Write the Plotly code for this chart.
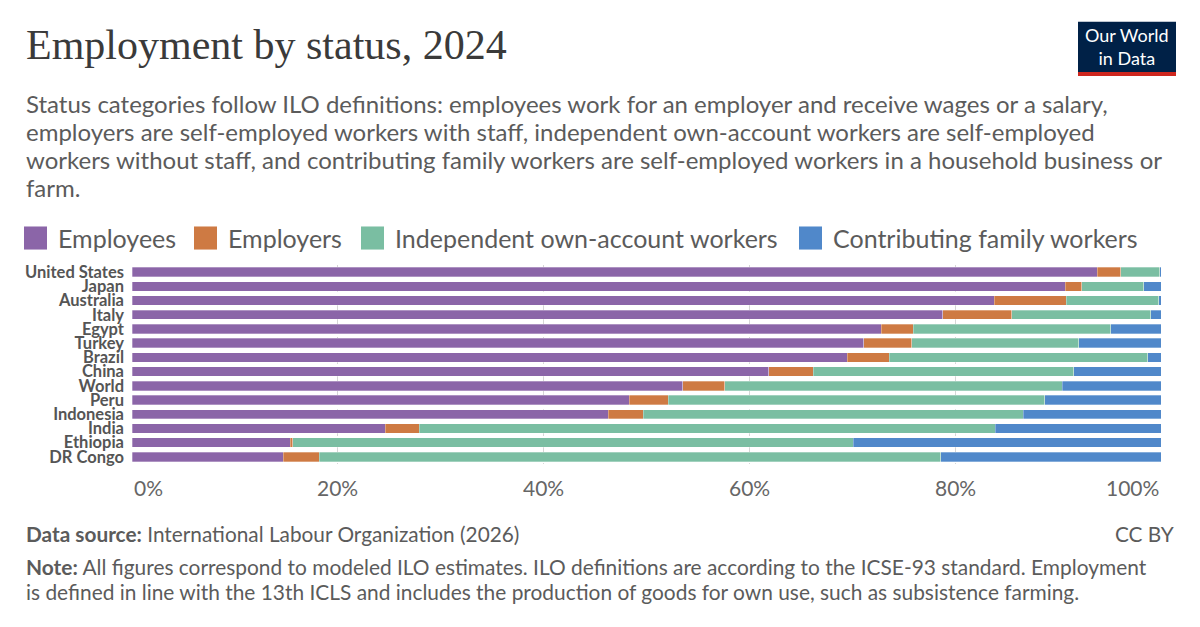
import plotly.graph_objects as go

countries = ["United States", "Japan", "Australia", "Italy", "Egypt", "Turkey", "Brazil",
             "China", "World", "Peru", "Indonesia", "India", "Ethiopia", "DR Congo"]
employees = [93.8, 90.7, 83.8, 78.8, 72.8, 71.1, 69.5, 61.9, 53.5, 48.3, 46.3, 24.6, 15.4, 14.7]
employers = [2.3, 1.6, 7.0, 6.7, 3.1, 4.7, 4.1, 4.3, 4.1, 3.8, 3.4, 3.3, 0.2, 3.5]
own_account = [3.8, 6.0, 9.0, 13.5, 19.2, 16.2, 25.1, 25.3, 32.8, 36.6, 36.9, 56.0, 54.5, 60.4]
family = [0.1, 1.7, 0.2, 1.0, 4.9, 8.0, 1.3, 8.5, 9.6, 11.3, 13.4, 16.1, 30.0, 21.4]

series_names = ["Employees", "Employers", "Independent own-account workers", "Contributing family workers"]
series_values = [employees, employers, own_account, family]
colors = ["#8B65A8", "#CE7A43", "#7ABEA2", "#5088CA"]

tick_vals = [0, 20, 40, 60, 80, 100]
tick_text = ["0%", "20%", "40%", "60%", "80%", "100%"]

W, H = 1200, 627
L, R, T, B = 132, 1161, 265.4, 463.8


def px(x):
    return (x - L) / (R - L)


def py(y):
    return (B - y) / (B - T)


fig = go.Figure()
for name, vals, col in zip(series_names, series_values, colors):
    fig.add_trace(go.Bar(
        y=countries, x=vals, name=name, orientation="h",
        marker=dict(color=col, line=dict(color="rgba(255,255,255,0.6)", width=0.5)),
        showlegend=False,
    ))

annotations = []
shapes = []

# Title
annotations.append(dict(text="Employment by status, 2024", x=px(24), y=py(46), xref="paper", yref="paper",
                        xanchor="left", yanchor="middle", showarrow=False,
                        font=dict(family="Liberation Serif", size=42, color="#3a3a3a")))
# Subtitle
sub_lines = [
    "Status categories follow ILO definitions: employees work for an employer and receive wages or a salary,",
    "employers are self-employed workers with staff, independent own-account workers are self-employed",
    "workers without staff, and contributing family workers are self-employed workers in a household business or",
    "farm.",
]
for i, line in enumerate(sub_lines):
    annotations.append(dict(text=line, x=px(24), y=py(104 + 28 * i), xref="paper", yref="paper",
                            xanchor="left", yanchor="middle", showarrow=False,
                            font=dict(family="Lato", size=24, color="#5b5b5b")))

# Legend (manual)
leg_sq_x = [24, 194, 361, 799]
for name, col, x0 in zip(series_names, colors, leg_sq_x):
    shapes.append(dict(type="rect", xref="paper", yref="paper", x0=px(x0), x1=px(x0 + 23),
                       y0=py(227), y1=py(250), fillcolor=col, line=dict(width=0)))
    annotations.append(dict(text=name, x=px(x0 + 32), y=py(238), xref="paper", yref="paper",
                            xanchor="left", yanchor="middle", showarrow=False,
                            font=dict(family="Lato", size=25, color="#5b5b5b")))

# X tick labels
for v, t in zip(tick_vals, tick_text):
    anchor = "left" if v == 0 else ("right" if v == 100 else "center")
    annotations.append(dict(text=t, x=v, y=py(487), xref="x", yref="paper",
                            xanchor=anchor, yanchor="middle", showarrow=False,
                            font=dict(family="Lato", size=21, color="#666666")))

# Footer
annotations.append(dict(text="<b>Data source:</b> International Labour Organization (2026)",
                        x=px(24), y=py(533), xref="paper", yref="paper", xanchor="left", yanchor="middle",
                        showarrow=False, font=dict(family="Lato", size=20.8, color="#5b5b5b")))
annotations.append(dict(text="CC BY", x=px(1176), y=py(533), xref="paper", yref="paper", xanchor="right",
                        yanchor="middle", showarrow=False, font=dict(family="Lato", size=20.8, color="#5b5b5b")))
note_lines = [
    "<b>Note:</b> All figures correspond to modeled ILO estimates. ILO definitions are according to the ICSE-93 standard. Employment",
    "is defined in line with the 13th ICLS and includes the production of goods for own use, such as subsistence farming.",
]
for i, line in enumerate(note_lines):
    annotations.append(dict(text=line, x=px(24), y=py(566 + 25 * i), xref="paper", yref="paper",
                            xanchor="left", yanchor="middle", showarrow=False,
                            font=dict(family="Lato", size=20.9, color="#5b5b5b")))

# Logo
shapes.append(dict(type="rect", xref="paper", yref="paper", x0=px(1078), x1=px(1176), y0=py(73), y1=py(23),
                   fillcolor="#002147", line=dict(width=0)))
shapes.append(dict(type="rect", xref="paper", yref="paper", x0=px(1078), x1=px(1176), y0=py(77), y1=py(73),
                   fillcolor="#CE261E", line=dict(width=0)))
annotations.append(dict(text="Our World<br>in Data", x=px(1127), y=py(48), xref="paper", yref="paper",
                        xanchor="center", yanchor="middle", showarrow=False, align="center",
                        font=dict(family="Lato", size=18, color="white")))

fig.update_layout(
    width=W, height=H, autosize=False,
    margin=dict(l=L, r=W - R, t=T, b=H - B, pad=0),
    barmode="stack", bargap=0.34,
    plot_bgcolor="white", paper_bgcolor="white",
    xaxis=dict(range=[0, 100], tickvals=tick_vals, showticklabels=False, showgrid=True,
               gridcolor="#d6d6d6", griddash="dash", gridwidth=1, zeroline=False, fixedrange=True),
    yaxis=dict(categoryorder="array", categoryarray=countries, autorange="reversed",
               tickmode="array", tickvals=countries, ticktext=countries,
               showgrid=False, zeroline=False, ticks="", ticklabelstandoff=7,
               tickfont=dict(family="Lato", size=16.5, color="#555555", weight="bold")),
    annotations=annotations, shapes=shapes, showlegend=False,
)

fig.write_html("out.html")
